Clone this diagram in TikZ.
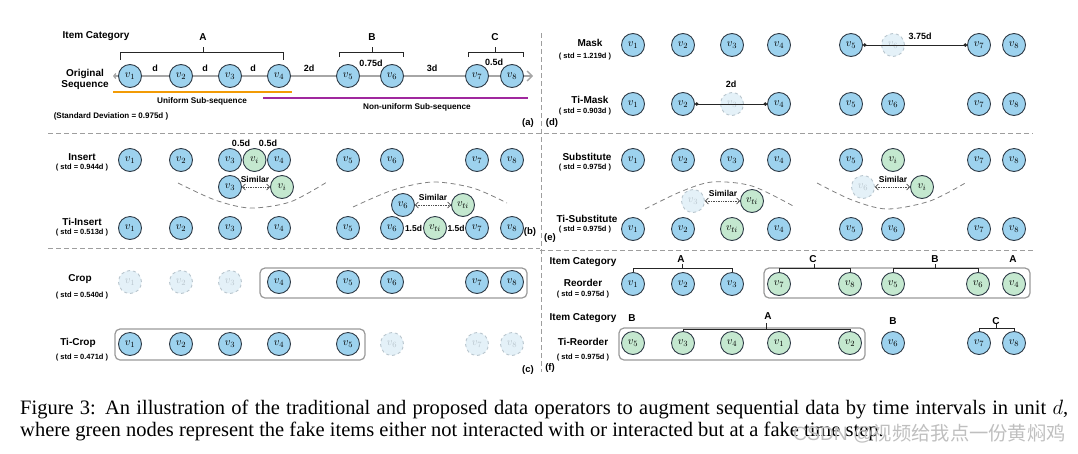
\documentclass[tikz,border=0pt]{standalone}
\usepackage{fontspec}
\setmainfont{Liberation Sans}
\newfontfamily\capfont{Liberation Serif}
\newfontfamily\cjkfont{Noto Sans CJK SC}
\usetikzlibrary{arrows.meta,calc}
\definecolor{nodeblue}{HTML}{9DD2EE}
\definecolor{nodegreen}{HTML}{C4E8CF}
\definecolor{nodeedge}{HTML}{2E3A46}
\definecolor{fadefill}{HTML}{E4F1F8}
\definecolor{fadeedge}{HTML}{B9C6CE}
\definecolor{sepgray}{HTML}{9E9E9E}
\definecolor{uniorange}{HTML}{F29B05}
\definecolor{nonpurple}{HTML}{A0289E}
\tikzset{
 nbase/.style={circle, minimum size=23pt, inner sep=0pt, line width=0.9pt, font=\fontsize{11}{11}\selectfont},
 bn/.style={nbase, fill=nodeblue, draw=nodeedge},
 gn/.style={nbase, fill=nodegreen, draw=nodeedge},
 fn/.style={nbase, fill=fadefill, draw=fadeedge, dashed, text=fadeedge},
 ttl/.style={font=\bfseries\fontsize{10}{12}\selectfont, align=center},
 stdlab/.style={font=\bfseries\fontsize{7.5}{9}\selectfont},
 gaplab/.style={font=\bfseries\fontsize{9}{10}\selectfont},
 sublab/.style={font=\bfseries\fontsize{8.2}{10}\selectfont},
 panel/.style={font=\bfseries\fontsize{9.5}{10}\selectfont},
 sep/.style={draw=sepgray, dash pattern=on 5pt off 3pt, line width=0.9pt},
 curv/.style={draw=gray, dash pattern=on 5pt off 3.5pt, line width=0.8pt},
 simarrow/.style={draw=black!70, densely dotted, line width=0.7pt, {Straight Barb[length=3pt]}-{Straight Barb[length=3pt]}},
 simlab/.style={font=\bfseries\fontsize{8.5}{9}\selectfont},
 ivline/.style={draw=black!85, line width=0.9pt, {Circle[length=3.5pt]}-{Circle[length=3.5pt]}},
 frame/.style={draw=gray!80, line width=1.2pt, rounded corners=5pt},
 brk/.style={draw=black!85, line width=0.8pt},
 seqline/.style={draw=gray!70, line width=1.3pt, {Straight Barb[length=2pt,width=5pt]}-{Straight Barb[length=5pt,width=10pt]}},
 captext/.style={anchor=base west, inner sep=0pt, font=\capfont\fontsize{20.5}{23}\selectfont},
}
\begin{document}
\begin{tikzpicture}[x=1pt,y=-1pt]
\useasboundingbox (0,0) rectangle (1078,453);
% separators
\draw[sep] (48,133) -- (1033,133);
\draw[sep] (48,248) -- (540,248);
\draw[sep] (540,250) -- (1033,250);
\draw[sep] (541,33) -- (541,372);

% ===== (a) original sequence =====
\coordinate (os) at (113,76);
\coordinate (oe) at (533,76);
\draw[seqline] (os) -- (oe);
\node[ttl] (ic0) at (96,36) {Item Category};
\node[ttl] (orig) at (85,79) {Original\\[-1pt]Sequence};
\foreach \n/\x in {1/130,2/181,3/230,4/279,5/348,6/392,7/477,8/512}
  \node[bn] (o\n) at (\x,76) {$v_\n$};
\draw[brk] (120,60) -- (120,52) -- (283,52) -- (283,60) (203,52) -- (203,47);
\draw[brk] (339,57) -- (339,52) -- (403,52) -- (403,57) (372,52) -- (372,47);
\draw[brk] (468,57) -- (468,52) -- (523,52) -- (523,57) (495,52) -- (495,47);
\node[ttl] (ca) at (203,37) {A};
\node[ttl] (cb) at (372,37) {B};
\node[ttl] (cc) at (495,37) {C};
\node[gaplab] (g1) at (155,68) {d};
\node[gaplab] (g2) at (205,68) {d};
\node[gaplab] (g3) at (253,68) {d};
\node[gaplab] (g4) at (309,68) {2d};
\node[gaplab] (g5) at (371,63) {0.75d};
\node[gaplab] (g6) at (432,68) {3d};
\node[gaplab] (g7) at (494,62) {0.5d};
\draw[uniorange, line width=2pt] (113,92) -- (292,92);
\draw[nonpurple, line width=2pt] (263,98) -- (528,98);
\node[sublab] (uni) at (202,101) {Uniform Sub-sequence};
\node[sublab] (non) at (417,107) {Non-uniform Sub-sequence};
\node[stdlab, font=\bfseries\fontsize{8}{9}\selectfont] (sda) at (111,116) {(Standard Deviation = 0.975d )};
\node[panel] (pa) at (528,123) {(a)};

% ===== (d) mask =====
\node[ttl] (maskl) at (590,43) {Mask};
\node[stdlab] (masks) at (585,57) {( std = 1.219d )};
\node[ttl] (tmaskl) at (590,100) {Ti-Mask};
\node[stdlab] (tmasks) at (585,112) {( std = 0.903d )};
\node[panel] (pd) at (552,123) {(d)};
\foreach \n/\x/\s in {1/633/bn,2/683/bn,3/732/bn,4/779/bn,5/851/bn,6/893/fn,7/979/bn,8/1014/bn}
  \node[\s] (m\n) at (\x,45) {$v_\n$};
\foreach \n/\x/\s in {1/633/bn,2/683/bn,3/732/fn,4/779/bn,5/851/bn,6/893/bn,7/979/bn,8/1014/bn}
  \node[\s] (tm\n) at (\x,104) {$v_\n$};
\draw[ivline] (m5) -- (m7);
\draw[ivline] (tm2) -- (tm4);
\node[gaplab] (g375) at (920,36) {3.75d};
\node[gaplab] (g2d) at (731,84) {2d};

% ===== (b) insert =====
\node[ttl] (insl) at (82,157) {Insert};
\node[stdlab] (inss) at (82,168) {( std = 0.944d )};
\node[ttl] (tinsl) at (82,222) {Ti-Insert};
\node[stdlab] (tinss) at (82,233) {( std = 0.513d )};
\node[panel] (pb) at (530,232) {(b)};
\foreach \n/\x in {1/130,2/181,3/230,4/279,5/348,6/392,7/477,8/512}
  \node[bn] (i\n) at (\x,160) {$v_\n$};
\node[gn] (ivi) at (254.5,160) {$v_i$};
\node[gaplab] (h1) at (241,143) {0.5d};
\node[gaplab] (h2) at (268,143) {0.5d};
\draw[curv] plot[smooth] coordinates {(178,183) (215,200) (250,208) (290,202) (327,182)};
\draw[curv] plot[smooth] coordinates {(353,207) (393,190) (433,182) (473,188) (507,203)};
\node[bn] (sa3) at (230,187) {$v_3$};
\node[gn] (sai) at (282,187) {$v_i$};
\draw[simarrow] (sa3) -- (sai);
\node[simlab] (sal) at (255,179) {Similar};
\node[bn] (sb6) at (403,205) {$v_6$};
\node[gn] (sbt) at (463,205) {$v_{ti}$};
\draw[simarrow] (sb6) -- (sbt);
\node[simlab] (sbl) at (433,197) {Similar};
\foreach \n/\x in {1/130,2/181,3/230,4/279,5/348,6/392,7/477,8/512}
  \node[bn] (ti\n) at (\x,228) {$v_\n$};
\node[gn] (tiv) at (435,228) {$v_{ti}$};
\node[gaplab, font=\bfseries\fontsize{8.5}{9}\selectfont] (k1) at (413.5,228) {1.5d};
\node[gaplab, font=\bfseries\fontsize{8.5}{9}\selectfont] (k2) at (456,228) {1.5d};

% ===== (e) substitute =====
\node[ttl] (subl) at (587,157) {Substitute};
\node[stdlab] (subs) at (585,168) {( std = 0.975d )};
\node[ttl] (tsubl) at (587,219) {Ti-Substitute};
\node[stdlab] (tsubs) at (585,230) {( std = 0.975d )};
\node[panel] (pe) at (550,238) {(e)};
\foreach \n/\x in {1/633,2/683,3/732,4/779,5/851,7/979,8/1014}
  \node[bn] (s\n) at (\x,160) {$v_\n$};
\node[gn] (s6) at (893,160) {$v_i$};
\draw[curv] plot[smooth] coordinates {(645,209) (680,192) (712,182) (752,186) (795,207)};
\draw[curv] plot[smooth] coordinates {(817,183) (852,200) (887,209) (930,201) (967,182)};
\node[fn] (sc3) at (693,201) {$v_3$};
\node[gn] (sct) at (752,201) {$v_{ti}$};
\draw[simarrow] (sc3) -- (sct);
\node[simlab] (scl) at (723,193) {Similar};
\node[fn] (sd6) at (863,187) {$v_6$};
\node[gn] (sdi) at (922,187) {$v_i$};
\draw[simarrow] (sd6) -- (sdi);
\node[simlab] (sdl) at (893,179) {Similar};
\foreach \n/\x in {1/633,2/683,4/779,5/851,6/893,7/979,8/1014}
  \node[bn] (ts\n) at (\x,229) {$v_\n$};
\node[gn] (ts3) at (732,229) {$v_{ti}$};

% ===== (c) crop =====
\node[ttl] (cropl) at (80,279) {Crop};
\node[stdlab] (crops) at (82,296) {( std = 0.540d )};
\node[ttl] (tcropl) at (78,343) {Ti-Crop};
\node[stdlab] (tcrops) at (82,358) {( std = 0.471d )};
\node[panel] (pc) at (528,370) {(c)};
\draw[frame] (260,268) rectangle (527,298);
\draw[frame] (115,329) rectangle (365,360);
\foreach \n/\x/\s in {1/130/fn,2/181/fn,3/230/fn,4/279/bn,5/348/bn,6/392/bn,7/477/bn,8/512/bn}
  \node[\s] (c\n) at (\x,282) {$v_\n$};
\foreach \n/\x/\s in {1/130/bn,2/181/bn,3/230/bn,4/279/bn,5/348/bn,6/392/fn,7/477/fn,8/512/fn}
  \node[\s] (tc\n) at (\x,344) {$v_\n$};

% ===== (f) reorder =====
\node[ttl] (ic1) at (583,262) {Item Category};
\node[ttl] (reol) at (583,283) {Reorder};
\node[stdlab] (reos) at (583,295) {( std = 0.975d )};
\node[ttl] (ic2) at (583,318) {Item Category};
\node[ttl] (treol) at (583,342) {Ti-Reorder};
\node[stdlab] (treos) at (583,358) {( std = 0.975d )};
\node[panel] (pf) at (550,368) {(f)};
\draw[frame] (764,268) rectangle (1030,298);
\draw[frame] (619,328) rectangle (865,360);
\foreach \p/\x/\s/\v in {1/633/bn/1,2/683/bn/2,3/732/bn/3,4/779/gn/7,5/850/gn/8,6/893/gn/5,7/978/gn/6,8/1014/gn/4}
  \node[\s] (r\p) at (\x,284) {$v_\v$};
\foreach \p/\x/\s/\v in {1/633/gn/5,2/683/gn/3,3/732/gn/4,4/779/gn/1,5/850/gn/2,6/893/bn/6,7/979/bn/7,8/1014/bn/8}
  \node[\s] (tr\p) at (\x,343) {$v_\v$};
% brackets reorder
\draw[brk] (r1.north) -- ++(0,-3.5) -| (r3.north);
\draw[brk] ($(r1.north)!0.5!(r3.north)+(0,-3.5)$) -- ++(0,-5);
\draw[brk] (r4.north) -- ++(0,-3.5) -| (r5.north);
\draw[brk] ($(r4.north)!0.5!(r5.north)+(0,-3.5)$) -- ++(0,-5);
\draw[brk] (r6.north) -- ++(0,-3.5) -| (r7.north);
\draw[brk] ($(r6.north)!0.5!(r7.north)+(0,-3.5)$) -- ++(0,-5);
\node[ttl] (fa1) at (681,259) {A};
\node[ttl] (fc1) at (813,259) {C};
\node[ttl] (fb1) at (935,259) {B};
\node[ttl] (fa2) at (1013,259) {A};
% brackets ti-reorder
\draw[brk] (tr2.north) -- ++(0,-2) -| (tr5.north);
\draw[brk] ($(tr2.north)!0.5!(tr5.north)+(0,-2)$) -- ++(0,-6);
\draw[brk] (tr7.north) -- ++(0,-2.5) -| (tr8.north);
\draw[brk] ($(tr7.north)!0.5!(tr8.north)+(0,-2.5)$) -- ++(0,-5);
\node[ttl] (fb2) at (632,318) {B};
\node[ttl] (fa3) at (768,316) {A};
\node[ttl] (fb3) at (893,321) {B};
\node[ttl] (fc2) at (996,321) {C};

% ===== caption =====
\node[captext] (cap1) at (20,414)
  {\makebox[1048pt][s]{Figure 3: An illustration of the traditional and proposed data operators to augment sequential data by time intervals in unit $d$,}};
\node[captext] (cap2) at (20,436)
  {where green nodes represent the fake items either not interacted with or interacted but at a fake time step.};
\node[anchor=base west, inner sep=0pt, text=gray!50, font=\fontsize{19.3}{22}\selectfont] (wm) at (793,440)
  {CSDN @{\cjkfont 视频给我点一份黄焖鸡}};
\end{tikzpicture}
\end{document}
